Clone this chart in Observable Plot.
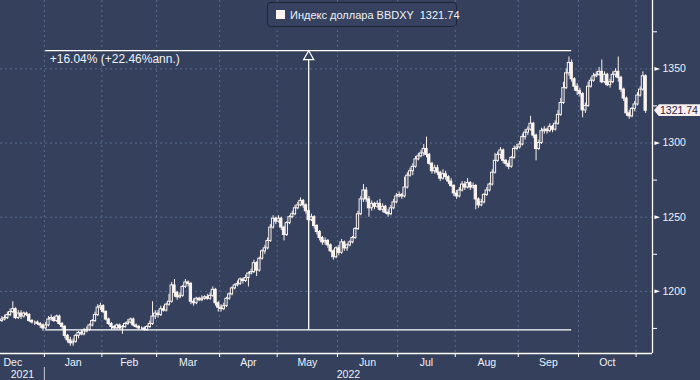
<!DOCTYPE html>
<html><head><meta charset="utf-8">
<script src="https://cdn.jsdelivr.net/npm/d3@7"></script>
<script src="https://cdn.jsdelivr.net/npm/@observablehq/plot@0.6"></script>
<style>
html,body{margin:0;padding:0;background:#34405c;}
#wrap{position:relative;width:700px;height:380px;overflow:hidden;font-family:"Liberation Sans",Arial,sans-serif;}
#legend{position:absolute;left:267px;top:2px;width:188px;height:23px;border:1px solid #1d2436;border-radius:4px;background:#36425f;color:#eef2fa;font-size:11px;line-height:24px;white-space:pre;}
#legend .sw{position:absolute;left:8px;top:7px;width:9px;height:9px;background:#fff4f0;}
#legend .tx{position:absolute;left:22px;top:0;}
#tag{position:absolute;left:654px;height:12px;width:50px;background:#f8f0ee;color:#2b1c3e;font-size:10.5px;line-height:12px;padding-left:6px;box-sizing:border-box;clip-path:polygon(0 50%,5px 0,100% 0,100% 100%,5px 100%);}
</style></head>
<body><div id="wrap"></div>
<script>
// ---- data ----
const months = ["Dec","Jan","Feb","Mar","Apr","May","Jun","Jul","Aug","Sep","Oct"];
const years = ["2021","2022"];
const seriesName = "Индекс доллара BBDXY";
const startDate = [2021, 11, 10];
const firstOpen = 1180;
const close = [
1181,1182,1184,1186,1188,1182,1185,1183,1185,1184,1180,1179,1179,1178,1177,1175,
1177,1181,1182,1180,1183,1178,1176,1170,1167,1165,1166,1170,1172,1171,1173,1174,1177,1180,1184,1189,1190,
1186,1181,1178,1176,1175,1177,1175,1176,1178,1179,1181,1177,1176,1175,1175,1174,1176,1178,1183,1185,
1184,1188,1187,1191,1193,1204,1199,1196,1197,1203,1206,1205,1193,1192,1195,1194,1195,1196,1195,1197,1201,1192,1189,
1188,1190,1195,1198,1202,1204,1205,1208,1207,1209,1212,1213,1219,1214,1222,1227,1229,1234,1243,1249,1247,
1249,1243,1238,1246,1250,1252,1256,1258,1261,1258,1254,1248,1250,1244,1240,1236,1233,1234,1231,1227,1223,1229,
1226,1233,1229,1231,1233,1236,1242,1252,1262,1268,1262,1256,1259,1257,1259,1255,1257,1253,1252,1256,1260,1264,
1265,1264,1270,1278,1281,1284,1289,1291,1293,1296,1292,1286,1281,1283,1280,1276,1279,1277,1274,1271,1266,
1264,1268,1272,1270,1273,1270,1271,1262,1258,1260,1265,1268,1272,1280,1288,1292,1295,1288,1286,1284,1290,1296,1297,
1299,1304,1307,1309,1313,1305,1296,1300,1308,1309,1308,1311,1309,1313,1319,1327,1337,1347,1354,1343,1338,1335,
1333,1322,1325,1338,1342,1345,1346,1348,1341,1346,1339,1341,1346,1348,1344,1336,1330,1320,1318,1323,1326,
1332,1336,1345,1321.74];
const high = [
1183,1184,1186,1188,1193,1189,1187,1187,1186,1186,1185,1181,1180,1180,1179,1178,
1179,1183,1184,1183,1184,1184,1179,1177,1171,1169,1168,1171,1173,1174,1175,1176,1178,1181,1186,1191,1192,
1191,1187,1182,1179,1177,1178,1178,1177,1179,1181,1182,1182,1178,1177,1176,1176,1177,1180,1193,1187,
1187,1190,1190,1192,1198,1206,1208,1200,1199,1204,1208,1207,1206,1195,1196,1196,1197,1197,1198,1199,1203,1202,1193,
1191,1192,1196,1199,1203,1205,1207,1209,1209,1211,1213,1215,1221,1220,1223,1228,1231,1236,1245,1251,1250,
1251,1250,1244,1247,1251,1254,1258,1260,1263,1262,1259,1255,1252,1251,1245,1241,1237,1236,1235,1232,1228,1230,
1231,1235,1234,1232,1234,1237,1243,1254,1264,1272,1270,1264,1261,1260,1261,1262,1259,1258,1255,1258,1262,1266,
1267,1266,1277,1280,1283,1286,1291,1293,1295,1299,1304,1293,1287,1285,1285,1281,1282,1281,1278,1276,1272,
1268,1270,1274,1274,1276,1274,1273,1272,1263,1262,1266,1270,1273,1282,1293,1294,1297,1296,1289,1288,1291,1298,1299,
1301,1306,1309,1311,1318,1314,1306,1302,1310,1311,1310,1313,1312,1315,1322,1330,1341,1350,1358,1356,1344,1340,
1337,1334,1327,1341,1344,1347,1348,1351,1356,1348,1347,1343,1348,1350,1358,1345,1337,1331,1322,1324,1328,
1334,1338,1348,1346];
const low = [
1179,1180,1181,1183,1185,1181,1181,1181,1182,1183,1179,1178,1177,1177,1175,1173,
1174,1176,1180,1179,1179,1177,1174,1168,1165,1163,1163,1165,1168,1170,1170,1172,1173,1176,1179,1183,1187,
1185,1180,1177,1174,1174,1174,1174,1171,1175,1177,1178,1176,1175,1174,1174,1173,1173,1175,1177,1181,
1182,1183,1186,1186,1190,1192,1196,1194,1195,1196,1202,1203,1191,1190,1191,1193,1193,1194,1194,1194,1196,1190,1186,
1186,1187,1189,1194,1197,1201,1203,1204,1205,1206,1203,1211,1212,1210,1213,1221,1225,1228,1233,1242,1245,
1246,1241,1234,1237,1245,1249,1251,1255,1257,1256,1252,1246,1247,1242,1238,1234,1231,1231,1229,1226,1221,1222,
1224,1225,1227,1227,1230,1232,1235,1241,1251,1260,1260,1250,1254,1255,1256,1254,1253,1252,1250,1251,1255,1259,
1263,1262,1263,1269,1277,1278,1283,1288,1290,1291,1290,1285,1279,1279,1278,1274,1275,1275,1272,1270,1264,
1262,1263,1267,1268,1269,1268,1269,1255,1256,1257,1259,1264,1267,1271,1279,1287,1289,1286,1284,1282,1283,1289,1295,
1296,1298,1302,1305,1308,1303,1288,1295,1299,1306,1306,1307,1307,1308,1312,1318,1326,1336,1345,1341,1335,1332,
1331,1317,1320,1324,1337,1341,1344,1345,1340,1340,1338,1337,1340,1344,1341,1334,1328,1318,1316,1317,1321,
1325,1331,1335,1320];
const yMajor = [1200, 1250, 1300, 1350];
const yMinor = [1175, 1225, 1275, 1325, 1375];
const measureIdx = [16, 208];
const measureVal = [1174.0, 1362.3];
const measureLabel = "+16.04% (+22.46%ann.)";

// ---- layout ----
const W = 700, H = 380, mR = 48, mB = 27, mT = 0, mL = 0;
const slots = 238;
const yDomain = [1158.1, 1396.1];
const bg = "#34405c", fg = "#fbf3ee", txt = "#eef2fa", grid = "#596b8e";
const plotW = W - mL - mR, plotH = H - mT - mB;
const pxX = plotW / slots, pxY = plotH / (yDomain[1] - yDomain[0]);

// trading days (weekdays)
const days = [];
for (let d = new Date(Date.UTC(...startDate)); days.length < close.length; d.setUTCDate(d.getUTCDate() + 1)) {
  const wd = d.getUTCDay(); if (wd !== 0 && wd !== 6) days.push(new Date(d));
}
let before = 0;
for (let d = new Date(Date.UTC(startDate[0], startDate[1], 1)); d < days[0]; d.setUTCDate(d.getUTCDate() + 1)) {
  const wd = d.getUTCDay(); if (wd !== 0 && wd !== 6) before++;
}
const bounds = [];
for (let i = 1; i < days.length; i++) if (days[i].getUTCMonth() !== days[i-1].getUTCMonth()) bounds.push(i);
const segStarts = [-before, ...bounds];
const monthMid = months.map((m, k) => (segStarts[k] + bounds[k]) / 2);
const yb = days.findIndex((d, i) => i > 0 && d.getUTCFullYear() !== days[i-1].getUTCFullYear());
const yearMid = [yb / 2, (yb + slots) / 2];

const candles = close.map((c, i) => ({i, open: i === 0 ? firstOpen : close[i-1], close: c, high: high[i], low: low[i]}));
const upC = candles.filter(d => d.close >= d.open), dnC = candles.filter(d => d.close < d.open);

const rightTri = {draw(ctx, size) { const s = Math.sqrt(size); ctx.moveTo(-s*0.45, -s*0.33); ctx.lineTo(s*0.55, 0); ctx.lineTo(-s*0.45, s*0.33); ctx.closePath(); }};
const y0 = yDomain[0];
const mx = (measureIdx[0] + measureIdx[1]) / 2 + 0.5;

const chart = Plot.plot({
  width: W, height: H, marginLeft: mL, marginRight: mR, marginTop: mT, marginBottom: mB,
  style: {background: "transparent", color: txt, fontFamily: '"Liberation Sans", Arial, sans-serif', fontSize: "10.5px", overflow: "visible"},
  x: {domain: [0, slots], axis: null},
  y: {domain: yDomain, axis: null},
  marks: [
    Plot.ruleY(yMajor, {stroke: grid, strokeDasharray: "2,3"}),
    Plot.ruleX(bounds, {stroke: grid, strokeDasharray: "2,3"}),
    // candles
    Plot.ruleX(candles, {x: d => d.i + 0.5, y1: "low", y2: "high", stroke: fg, strokeWidth: 1}),
    Plot.rect(upC, {x1: d => d.i + 0.08, x2: d => d.i + 0.92, y1: "open", y2: "close", fill: bg, stroke: fg, strokeWidth: 1}),
    Plot.rect(dnC, {x1: d => d.i + 0.08, x2: d => d.i + 0.92, y1: "open", y2: "close", fill: fg, stroke: fg, strokeWidth: 1}),
    // measurement annotation
    Plot.ruleY([measureVal[0]], {x1: measureIdx[0] + 0.5, x2: measureIdx[1] + 0.5, stroke: "white", strokeWidth: 1.3}),
    Plot.ruleY([measureVal[1]], {x1: measureIdx[0] + 0.5, x2: measureIdx[1] + 0.5, stroke: "white", strokeWidth: 1.3}),
    Plot.ruleX([mx], {y1: measureVal[0], y2: measureVal[1], stroke: "white", strokeWidth: 1.3}),
    Plot.dot([mx], {x: d => d, y: () => measureVal[1], symbol: "triangle", r: 3.8, dy: 6, fill: bg, stroke: "white", strokeWidth: 1.2}),
    Plot.text([measureLabel], {x: () => measureIdx[0] + 0.5, y: () => measureVal[1], text: d => d, dx: 4, dy: 9, textAnchor: "start", fontSize: 12, fill: txt}),
    // frame
    Plot.ruleX([slots], {stroke: "white", strokeWidth: 1.3}),
    Plot.ruleY([y0], {stroke: "white", strokeWidth: 1.3}),
    // x ticks and labels
    Plot.ruleX(bounds, {y1: y0, y2: y0 - 4 / pxY, stroke: "white"}),
    Plot.ruleX([yb], {y1: y0 - 14 / pxY, y2: y0 - 28 / pxY, stroke: "#c8cedb"}),
    Plot.text(months, {x: monthMid, y: () => y0, text: d => d, dy: 9, fill: txt}),
    Plot.text(years, {x: yearMid, y: () => y0, text: d => d, dy: 21, fill: txt}),
    // y axis right
    Plot.ruleY(yMinor, {x1: slots, x2: slots + 5 / pxX, stroke: "white"}),
    Plot.dot(yMajor, {x: () => slots, y: d => d, symbol: rightTri, r: 3.2, dx: 4.5, fill: "white", stroke: null}),
    Plot.text(yMajor, {x: () => slots, y: d => d, text: d => String(d), dx: 10, textAnchor: "start", fill: txt})
  ]
});

const wrap = document.getElementById("wrap");
wrap.appendChild(chart);
const leg = document.createElement("div");
leg.id = "legend";
leg.innerHTML = '<span class="sw"></span><span class="tx"></span>';
leg.querySelector(".tx").textContent = seriesName + "  " + close[close.length - 1].toFixed(2);
wrap.appendChild(leg);
const tag = document.createElement("div");
tag.id = "tag";
tag.textContent = close[close.length - 1].toFixed(2);
tag.style.top = (chart.scale("y").apply(close[close.length - 1]) - 6) + "px";
wrap.appendChild(tag);
</script>
</body></html>
